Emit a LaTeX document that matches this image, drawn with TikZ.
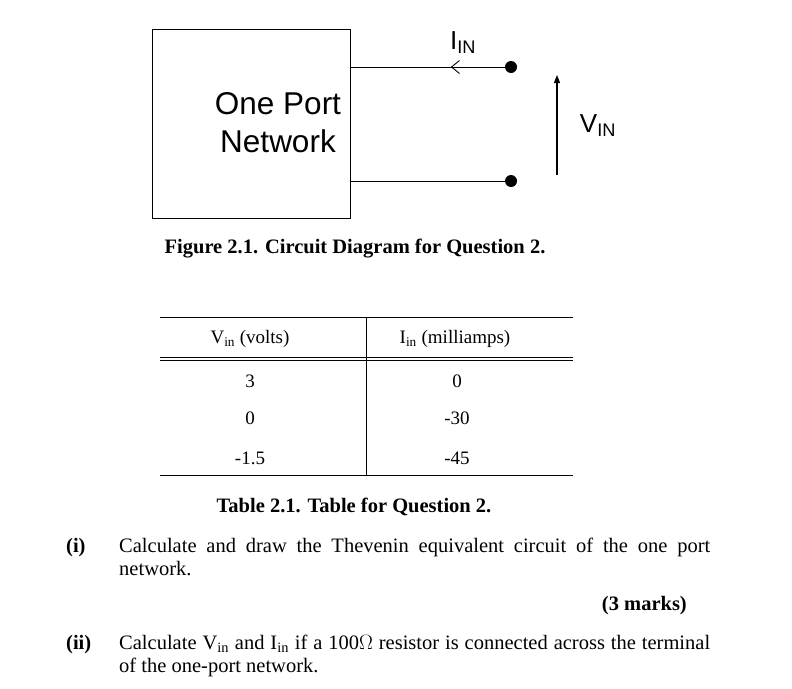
\documentclass[tikz,border=0pt]{standalone}
\usepackage{fontspec}
\setmainfont{Liberation Serif}
\newfontfamily\sansf{Liberation Sans}
\usetikzlibrary{arrows.meta,decorations.markings}
\begin{document}
\begin{tikzpicture}[x=1pt,y=-1pt,
  wire/.style={line width=0.9pt},
  dot/.style={circle,fill=black,inner sep=0pt,minimum size=12pt},
  body/.style={font=\fontsize{20.5}{23}\selectfont,inner sep=0pt},
  bbody/.style={font=\bfseries\fontsize{20.5}{23}\selectfont,inner sep=0pt},
  cell/.style={font=\fontsize{19}{20}\selectfont,inner sep=0pt}]
\useasboundingbox (0,0) rectangle (792,688);
\node[draw,wire,minimum width=198pt,minimum height=189pt,inner sep=0pt] (box) at (251,123.5) {};
\node[align=center,inner sep=0pt,font=\sansf\fontsize{31.5}{38}\selectfont] (lbl) at (278,123) {One Port\\Network};
\node[dot] (t1) at (511,67) {};
\node[dot] (t2) at (511,181) {};
\draw[wire,postaction={decorate},decoration={markings,mark=at position 0.35 with {\arrow{Straight Barb[length=8pt,width=13pt]}}}] (t1) -- (box.east |- t1);
\draw[wire] (t2) -- (box.east |- t2);
\node[font=\sansf\fontsize{26}{28}\selectfont,inner sep=0pt] (iin) at (463,43) {I\textsubscript{IN}};
\coordinate (va) at (557,175);
\coordinate (vb) at (557,75);
\draw[line width=1.3pt,-{Triangle[length=8pt,width=6pt]}] (va) -- (vb);
\node[font=\sansf\fontsize{26}{28}\selectfont,inner sep=0pt] (vin) at (598,126) {V\textsubscript{IN}};
\node[bbody] (cap1) at (355,249) {Figure 2.1. Circuit Diagram for Question 2.};
% table
\coordinate (tl) at (160,317); \coordinate (tr) at (573,317);
\draw[line width=0.8pt] (tl) -- (tr);
\draw[line width=0.8pt] (160,357) -- (573,357);
\draw[line width=0.8pt] (160,360.5) -- (573,360.5);
\draw[line width=0.8pt] (160,475) -- (573,475);
\draw[line width=0.8pt] (366,317) -- (366,475);
\node[cell] (h1) at (250,339) {V\textsubscript{in} (volts)};
\node[cell] (h2) at (455,339) {I\textsubscript{in} (milliamps)};
\node[cell] (a1) at (250,381) {3};
\node[cell] (b1) at (457,381) {0};
\node[cell] (a2) at (250,418) {0};
\node[cell] (b2) at (457,418) {-30};
\node[cell] (a3) at (250,458) {-1.5};
\node[cell] (b3) at (457,458) {-45};
\node[bbody] (cap2) at (354,507) {Table 2.1. Table for Question 2.};
\node[bbody,anchor=north west] (i) at (66,538) {(i)};
\node[body,anchor=north west,text width=591pt,align=justify] (it) at (119,538) {Calculate and draw the Thevenin equivalent circuit of the one port \mbox{network.}};
\node[bbody,anchor=east] (m) at (687,606) {(3 marks)};
\node[bbody,anchor=north west] (ii) at (66,635) {(ii)};
\node[body,anchor=north west,text width=591pt,align=justify] (iit) at (119,635) {Calculate V\textsubscript{in} and I\textsubscript{in} if a 100$\Omega$ resistor is connected across the terminal of the one-port network.};
\end{tikzpicture}
\end{document}
